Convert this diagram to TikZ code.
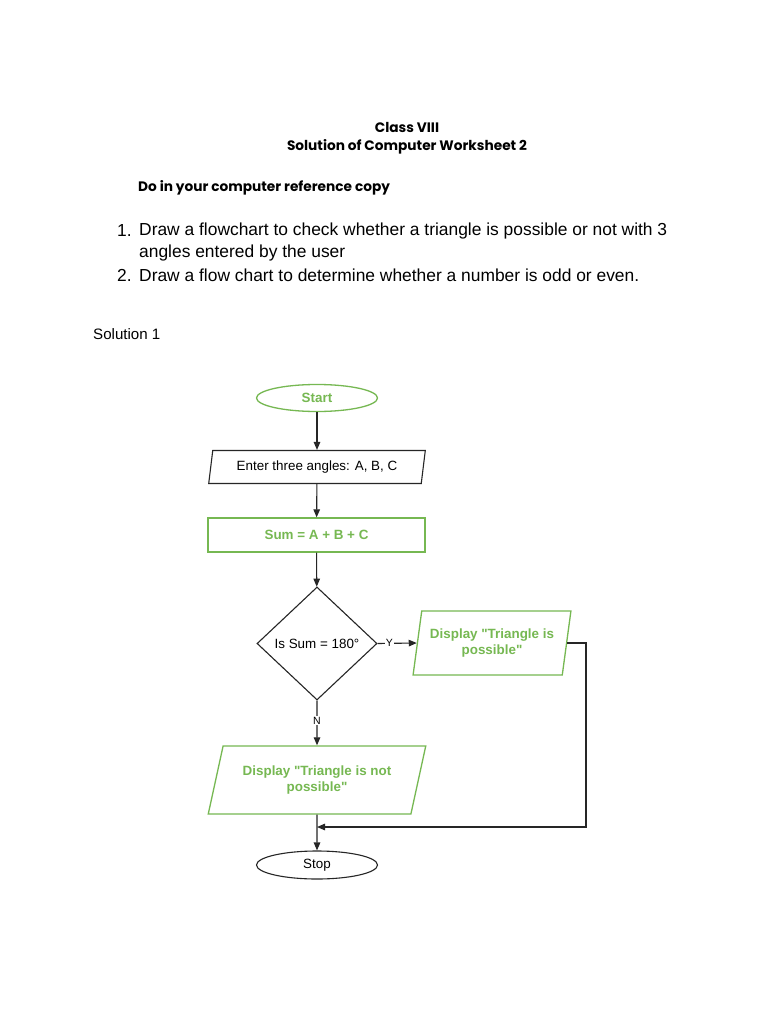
\documentclass[tikz,border=0pt]{standalone}
\usepackage{fontspec}
\setmainfont{Liberation Sans}[Ligatures=TeXOff]
\newfontfamily\popfont{Poppins}
\usetikzlibrary{shapes.geometric,arrows.meta}
\definecolor{fcgreen}{RGB}{118,184,82}
\begin{document}
\begin{tikzpicture}[x=1pt,y=-1pt,
  line/.style={line width=1.1pt,draw=black!85},
  arr/.style={line, -{Triangle[length=8pt,width=6.5pt]}},
  gbox/.style={draw=fcgreen,line width=1.3pt,text=fcgreen,font=\fontsize{13.4}{16}\selectfont\bfseries,align=center,inner sep=0pt},
  kbox/.style={draw=black!85,line width=1.1pt,text=black,font=\fontsize{13.4}{16}\selectfont,align=center,inner sep=0pt},
  para/.style={trapezium,trapezium stretches=true},
  lbl/.style={fill=white,inner sep=1pt,font=\fontsize{10.5}{12}\selectfont},
  body/.style={font=\fontsize{17.4}{20}\selectfont,anchor=west,inner sep=0pt}
]
\useasboundingbox[fill=white] (0,0) rectangle (768,1024);

% header
\node[font=\popfont\bfseries\fontsize{13.7}{16}\selectfont] (h1) at (407,127) {Class VIII};
\node[font=\popfont\bfseries\fontsize{13.7}{16}\selectfont] (h2) at (407,147) {Solution of Computer Worksheet 2};
\node[font=\popfont\bfseries\fontsize{13.7}{16}\selectfont,anchor=west,inner sep=0pt] (h3) at (138,188) {Do in your computer reference copy};

\node[body] (n1) at (117,231) {1.};
\node[body] (t1a) at (139,231) {Draw a flowchart to check whether a triangle is possible or not with 3};
\node[body] (t1b) at (139,253) {angles entered by the user};
\node[body] (n2) at (117,275) {2.};
\node[body] (t2) at (139,275) {Draw a flow chart to determine whether a number is odd or even.};

\node[font=\fontsize{15.1}{17}\selectfont,anchor=west,inner sep=0pt] (sol) at (93,334) {Solution 1};

% flowchart
\node[gbox,ellipse,minimum width=121pt,minimum height=27pt] (start) at (317,398) {Start};
\node[kbox,para,trapezium left angle=76,trapezium right angle=104,minimum width=217pt,minimum height=33pt] (inp) at (317,467) {Enter three angles: A, B, C};
\node[gbox,rectangle,minimum width=217pt,minimum height=34pt] (sum) at (316.5,535) {Sum = A + B + C};
\node[kbox,diamond,minimum width=120pt,minimum height=113pt] (dec) at (317,643.5) {Is Sum = 180°};
\node[gbox,para,trapezium left angle=75,trapezium right angle=105,minimum width=158pt,minimum height=64pt] (dp) at (492,643) {Display "Triangle is\\possible"};
\node[gbox,para,trapezium left angle=67.6,trapezium right angle=112.4,minimum width=218pt,minimum height=68pt] (dn) at (317,780) {Display "Triangle is not\\possible"};
\node[kbox,ellipse,minimum width=121pt,minimum height=28pt] (stop) at (317,865) {Stop};

\coordinate (m) at (317,827);
\coordinate (r) at (586,827);

\draw[arr] (start) -- (inp);
\draw[arr] (inp) -- (sum);
\draw[arr] (sum) -- (dec);
\draw[arr] (dec.east) -- node[lbl,pos=0.3]{Y} (dp.west);
\draw[arr] (dec.south) -- node[lbl,pos=0.45]{N} (dn.north);
\draw[arr] (dn.south) -- (stop.north);
\draw[arr] (dp.east) -| (r) -- (m);
\end{tikzpicture}
\end{document}
